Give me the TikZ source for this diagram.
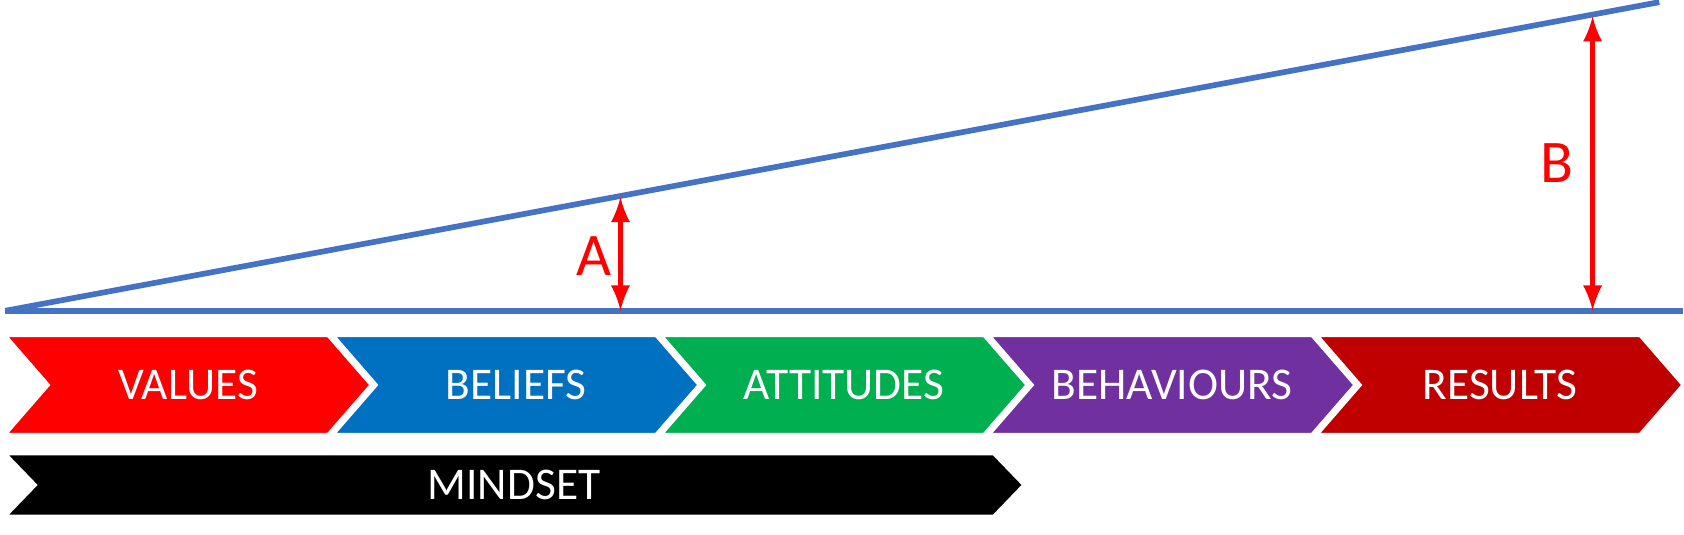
\documentclass[tikz,border=0pt]{standalone}
\usepackage{fontspec}
\setmainfont{Carlito}
\definecolor{cvalues}{HTML}{FF0000}
\definecolor{cbeliefs}{HTML}{0070C0}
\definecolor{cattitudes}{HTML}{00B050}
\definecolor{cbehaviours}{HTML}{7030A0}
\definecolor{cresults}{HTML}{C00000}
\definecolor{cline}{HTML}{4472C4}
\tikzset{
  chev/.style={draw=white, line width=0.8pt},
  chevtext/.style={text=white, font=\fontsize{12}{14}\selectfont},
  dim/.style={red, line width=1.3pt, <->, >=latex},
  dimtext/.style={red, font=\fontsize{16}{18}\selectfont}
}
\begin{document}
\begin{tikzpicture}[x=0.01cm, y=-0.01cm]
\useasboundingbox (0,0) rectangle (1566,497.5);
% slope and baseline
\coordinate (o) at (5,289);
\coordinate (e) at (1565,289);
\coordinate (s) at (1543,2);
\draw[cline, line width=1.5pt] (o) -- (e);
\draw[cline, line width=1.5pt] (o) -- (s);
\coordinate (a0) at (577,289);
\coordinate (a1) at (577,183);
\coordinate (b0) at (1481,289);
\coordinate (b1) at (1481,15);
\draw[dim] (a0) -- (a1);
\draw[dim] (b0) -- (b1);
\node[dimtext] (A) at (552,238) {A};
\node[dimtext] (B) at (1448,152) {B};
% chevrons
\foreach \x/\c/\t [count=\i] in {5/cvalues/VALUES, 310/cbeliefs/BELIEFS,
    615/cattitudes/ATTITUDES, 920/cbehaviours/BEHAVIOURS, 1225/cresults/RESULTS} {
  \fill[\c, chev] (\x,312) -- (\x+300,312) -- (\x+340,358) -- (\x+300,404)
    -- (\x,404) -- (\x+40,358) -- cycle;
  \node[chevtext] (chev\i) at (\x+170,358) {\t};
}
\fill[black, chev] (5,422) -- (924,422) -- (952,451) -- (924,480)
  -- (5,480) -- (33,451) -- cycle;
\node[chevtext] (mindset) at (478,451) {MINDSET};
\end{tikzpicture}
\end{document}
